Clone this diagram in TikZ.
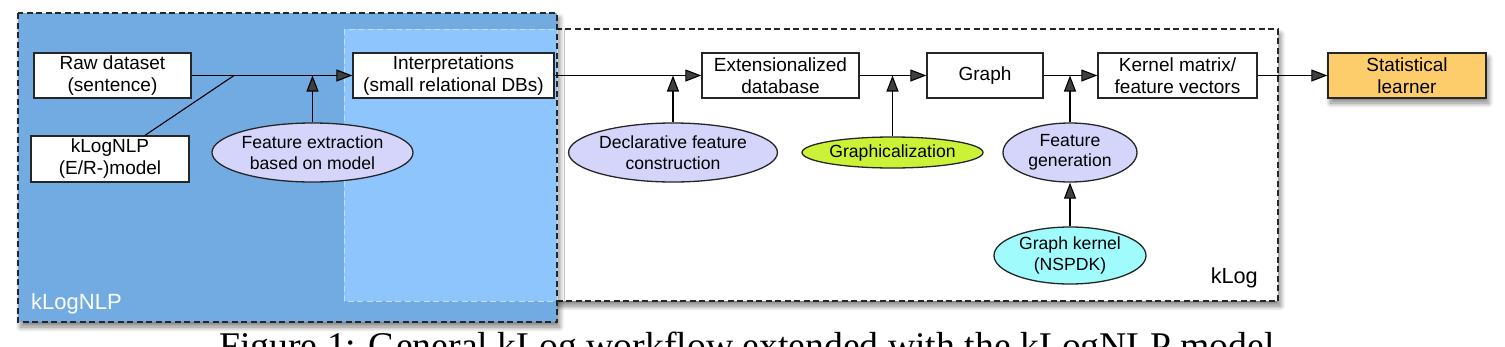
\documentclass[tikz,border=0pt]{standalone}
\usepackage{fontspec}
\setmainfont{Liberation Sans}
\newfontfamily\capfont{Liberation Serif}
\usetikzlibrary{arrows.meta,shapes.geometric,shadows.blur}
\definecolor{nlpblue}{RGB}{114,170,226}
\definecolor{overlapblue}{RGB}{142,197,252}
\definecolor{lav}{RGB}{213,213,251}
\definecolor{limey}{RGB}{204,242,56}
\definecolor{cyanish}{RGB}{160,252,252}
\definecolor{learnercol}{RGB}{253,205,108}
\begin{document}
\begin{tikzpicture}[x=1pt,y=-1pt,
  font=\fontsize{19}{22}\selectfont,
  box/.style={draw=black!85, line width=1.3pt, fill=white, align=center, inner sep=0pt, minimum height=45pt},
  oval/.style={ellipse, draw=black!85, line width=1.3pt, align=center, inner sep=0pt, font=\fontsize{17.6}{20.5}\selectfont},
  arr/.style={-{Triangle[length=16pt,width=12pt]}, line width=1.1pt},
  link/.style={line width=1.1pt},
  region/.style={dash pattern=on 6pt off 3.5pt, line width=1.4pt},
  shad/.style={blur shadow={shadow xshift=2.5pt, shadow yshift=-5pt, shadow blur radius=5pt, shadow blur steps=10, shadow opacity=50}},
]
\useasboundingbox (0,0) rectangle (1505,346);
\clip (0,0) rectangle (1505,346);
% regions
\path[region, draw=black!85, fill=white, shad] (344,29) rectangle (1278,301);
\path[fill=nlpblue, shad] (18,13) rectangle (557,322);
\path[fill=overlapblue] (344,29) rectangle (557,301);
\draw[region, line width=1pt, draw=white!45!overlapblue] (344,29) rectangle (557,301);
\draw[region, draw=black!85] (18,13) rectangle (557,322);
\node[anchor=base west, inner sep=0pt, text=white, font=\fontsize{22}{24}\selectfont] (nlplabel) at (31,309) {kLogNLP};
\node[anchor=base east, inner sep=0pt, font=\fontsize{21.7}{24}\selectfont] (kloglabel) at (1258,283) {kLog};
% nodes
\node[box, minimum width=157pt] (raw) at (112.5,75.5) {Raw dataset\\(sentence)};
\node[box, minimum width=158pt, minimum height=46pt] (model) at (110,159) {kLogNLP\\(E/R-)model};
\node[box, minimum width=201pt] (interp) at (453.5,75.5) {Interpretations\\(small relational DBs)};
\node[box, minimum width=157pt] (ext) at (780.5,75.5) {Extensionalized\\database};
\node[box, minimum width=116pt] (graph) at (985,75.5) {Graph};
\node[box, minimum width=159pt] (kern) at (1177.5,75.5) {Kernel matrix/\\feature vectors};
\node[box, minimum width=158pt, fill=learnercol, shad] (learn) at (1407,75.5) {Statistical\\learner};
\node[oval, fill=lav, minimum width=201pt, minimum height=59pt] (fe) at (312.5,152.5) {Feature extraction\\based on model};
\node[oval, fill=lav, minimum width=208pt, minimum height=59pt] (dfc) at (673,152.5) {Declarative feature\\construction};
\node[oval, fill=limey, minimum width=181pt, minimum height=31pt] (gz) at (892.5,152.5) {Graphicalization};
\node[oval, fill=lav, minimum width=134pt, minimum height=59pt] (fg) at (1070,152.5) {Feature\\generation};
\node[oval, fill=cyanish, minimum width=152pt, minimum height=57pt] (gk) at (1070,255.5) {Graph kernel\\(NSPDK)};
% connectors
\coordinate (j) at (234,75.5);
\draw[link] (raw.east) -- (j);
\draw[link] ([xshift=35pt]model.north) -- (j);
\draw[arr] (j) -- (interp.west);
\draw[arr] (fe.north) -- (fe.north |- j);
\draw[arr] (interp.east) -- (ext.west);
\draw[arr] (dfc.north) -- (dfc.north |- interp.east);
\draw[arr] (ext.east) -- (graph.west);
\draw[arr] (gz.north) -- (gz.north |- ext.east);
\draw[arr] (graph.east) -- (kern.west);
\draw[arr] (fg.north) -- (fg.north |- graph.east);
\draw[arr] (gk.north) -- (fg.south);
\draw[arr] (kern.east) -- (learn.west);
% caption (cut off by the picture's edge)
\node[anchor=base west, inner sep=0pt, font=\capfont\fontsize{37.7}{40}\selectfont] (cap) at (219,358) {Figure 1: General kLog workflow extended with the kLogNLP model};
\end{tikzpicture}
\end{document}
